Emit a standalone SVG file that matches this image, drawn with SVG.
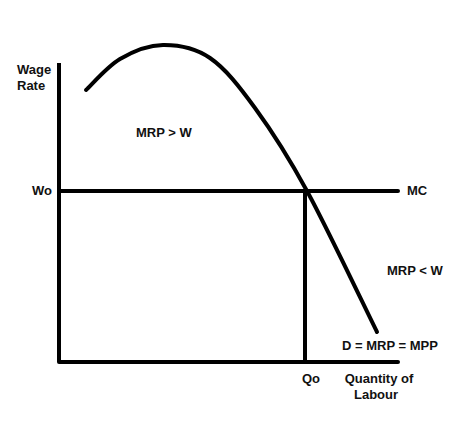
<svg xmlns="http://www.w3.org/2000/svg" width="474" height="424" viewBox="0 0 474 424">
<style>
.ln{stroke:#000;stroke-width:4;fill:none;stroke-linecap:round}
.t{font-family:"Liberation Sans",Arial,sans-serif;font-weight:bold;font-size:13px;fill:#111}
</style>
<rect width="474" height="424" fill="#fff"/>
<g id="connectors">
<line class="ln" x1="59" y1="63" x2="59" y2="362" style="stroke-linecap:butt"/>
<line class="ln" x1="59" y1="362" x2="398" y2="362"/>
<line class="ln" x1="59" y1="191" x2="398" y2="191"/>
<line class="ln" x1="305" y1="191" x2="305" y2="362" style="stroke-linecap:butt"/>
<path class="ln" d="M86,90 C91.7,84.8 107.2,66.5 120,59 C132.8,51.5 148,45.2 163,45 C178,44.8 194.7,47.5 210,58 C225.3,68.5 238.8,85.8 255,108 C271.2,130.2 286.7,153.7 307,191 C327.3,228.3 365.3,308.5 377,332"/>
</g>
<g id="y-label"><text class="t" x="17" y="74">Wage</text><text class="t" x="17" y="90">Rate</text></g>
<g id="wo"><text class="t" x="32" y="195">Wo</text></g>
<g id="mc"><text class="t" x="407" y="195">MC</text></g>
<g id="mrp-gt"><text class="t" x="136" y="137">MRP &gt; W</text></g>
<g id="mrp-lt"><text class="t" x="387" y="275">MRP &lt; W</text></g>
<g id="demand"><text class="t" x="342" y="350">D = MRP = MPP</text></g>
<g id="qo"><text class="t" x="302" y="383">Qo</text></g>
<g id="x-label"><text class="t" x="379" y="383" text-anchor="middle">Quantity of</text><text class="t" x="376" y="399" text-anchor="middle">Labour</text></g>
</svg>
